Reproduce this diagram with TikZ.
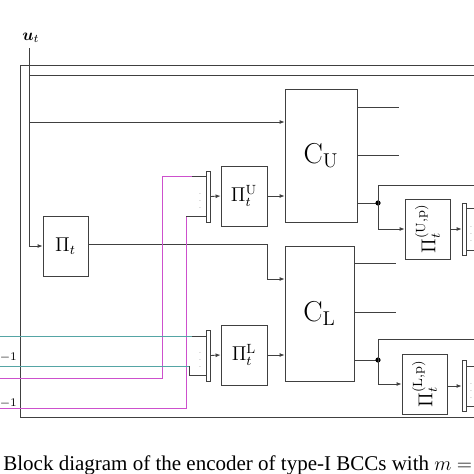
\documentclass[tikz,border=0pt]{standalone}
\usepackage{amsmath}
\usepackage{amssymb}
\usepackage{fontspec}
\newfontfamily\capfont{Liberation Serif}
\usepackage{tikz}
\usetikzlibrary{arrows.meta,calc}
\definecolor{magU}{RGB}{205,80,205}
\definecolor{tealL}{RGB}{85,165,165}
\tikzstyle{enc}=[rectangle,
	draw=black!75,
	line width=0.5pt,
	inner sep=0pt,
	font=\LARGE]
\tikzstyle{perm}=[rectangle,
	draw=black!75,
	line width=0.5pt,
	inner sep=0pt,
	minimum width=27.6pt,
	minimum height=36pt,
	font=\large]
\tikzstyle{mux}=[rectangle,
	draw=black!75,
	line width=0.5pt,
	inner sep=0pt,
	minimum width=2.4pt,
	minimum height=30.6pt]
\tikzstyle{wire}=[draw=black!75,
	line width=0.5pt]
\tikzstyle{sig}=[wire,
	-{Latex[length=3pt,width=2.4pt]}]
\tikzstyle{vd}=[text=black!35,
	font=\tiny,
	inner sep=0pt]

\begin{document}
\begin{tikzpicture}[x=0.6pt,y=-0.6pt]
	\useasboundingbox (0,0) rectangle (474,474);
	\draw[wire] (20,65) rectangle (490,417);

	% encoders
	\node (cu) [enc, minimum width=43.2pt, minimum height=79.8pt] at (321,155.5) {$\mathrm{C}_{\mathrm{U}}$};
	\node (cl) [enc, minimum width=41.4pt, minimum height=81pt] at (319.5,313.5) {$\mathrm{C}_{\mathrm{L}}$};

	% interleavers
	\node (pit) [perm, minimum width=27pt] at (65.5,246) {$\Pi_t$};
	\node (piu) [perm] at (244,196) {$\Pi_t^{\mathrm{U}}$};
	\node (pil) [perm] at (244,355) {$\Pi_t^{\mathrm{L}}$};
	\node (piup) [perm, minimum width=27pt] at (427.5,229) {};
	\node [rotate=90, font=\large] at (piup) {$\Pi_t^{(\mathrm{U,p})}$};
	\node (pilp) [perm, minimum width=27pt] at (424.5,384) {};
	\node [rotate=90, font=\large] at (pilp) {$\Pi_t^{(\mathrm{L,p})}$};

	% multiplexers
	\node (muxu) [mux] at (208,196.5) {};
	\node (muxl) [mux] at (208,355.5) {};
	\node (muxup) [mux, minimum height=31.2pt] at (464,229) {};
	\node (muxlp) [mux] at (464,385.5) {};
	\node (vdu) [vd] at (200,196) {$\vdots$};
	\node (vdl) [vd] at (200,355) {$\vdots$};
	\node (vdup) [vd] at (471,229) {$\vdots$};
	\node (vdlp) [vd] at (471,386) {$\vdots$};

	% input
	\node (ut) at (31,38) {$\boldsymbol{u}_t$};
	\draw[sig] (29,48) |- (pit.west);
	\draw[wire] (29,75) -- (490,75);
	\draw[sig] (29,122) -- (cu.west |- 0,122);
	\draw[sig] (pit.east |- 0,244) -- (267,244) |- (cl.west |- 0,279);
	\draw[sig] (piu.east) -- (cu.west |- piu.east);
	\draw[sig] (pil.east) -- (cl.west |- pil.east);
	\draw[sig] (muxu.east) -- (piu.west);
	\draw[sig] (muxl.east) -- (pil.west);

	% upper encoder outputs
	\coordinate (du) at (378,203);
	\draw[wire] (cu.east |- 0,107) -- (399,107);
	\draw[wire] (cu.east |- 0,155) -- (399,155);
	\draw[wire] (cu.east |- du) -- (du);
	\fill (du) circle (2.6);
	\draw[wire] (du) |- (490,185);
	\draw[sig] (du) |- (piup.west);
	\draw[sig] (piup.east) -- (muxup.west);
	\draw[wire] (muxup.east |- 0,208) -- (490,208);
	\draw[wire] (muxup.east |- 0,250) -- (490,250);

	% lower encoder outputs
	\coordinate (dl) at (378,360);
	\draw[wire] (cl.east |- 0,263) -- (396,263);
	\draw[wire] (cl.east |- 0,312) -- (396,312);
	\draw[wire] (cl.east |- dl) -- (dl);
	\fill (dl) circle (2.6);
	\draw[wire] (dl) |- (490,339);
	\draw[sig] (dl) |- (pilp.west);
	\draw[sig] (pilp.east |- 0,386) -- (muxlp.west |- 0,386);
	\draw[wire] (muxlp.east |- 0,366) -- (490,366);
	\draw[wire] (muxlp.east |- 0,406) -- (490,406);

	% feedback from previous block
	\draw[magU, line width=0.6pt] (-5,378) -- (162,378) -- (162,176) -- (192,176);
	\draw[wire] (192,176) -- (muxu.west |- 0,176);
	\draw[magU, line width=0.6pt] (-5,408) -- (186,408) -- (186,216);
	\draw[wire] (186,216) -- (muxu.west |- 0,216);
	\draw[tealL, line width=0.6pt] (-5,336) -- (192,336);
	\draw[wire] (192,336) -- (muxl.west |- 0,336);
	\draw[tealL, line width=0.6pt] (-5,366) -- (189,366);
	\draw[wire] (189,366) -- (189,375) -- (muxl.west |- 0,375);
	\node (vl) [anchor=base east, inner sep=0pt] at (18,358) {$\boldsymbol{v}_{t-1}$};
	\node (vu) [anchor=base east, inner sep=0pt] at (18,404) {$\boldsymbol{v}_{t-1}$};

	% caption
	\node (cap) [anchor=base west, inner sep=0pt, font=\capfont\fontsize{12.6}{15}\selectfont] at (3,470) {Block diagram of the encoder of type-I BCCs with $m=$};
\end{tikzpicture}
\end{document}
